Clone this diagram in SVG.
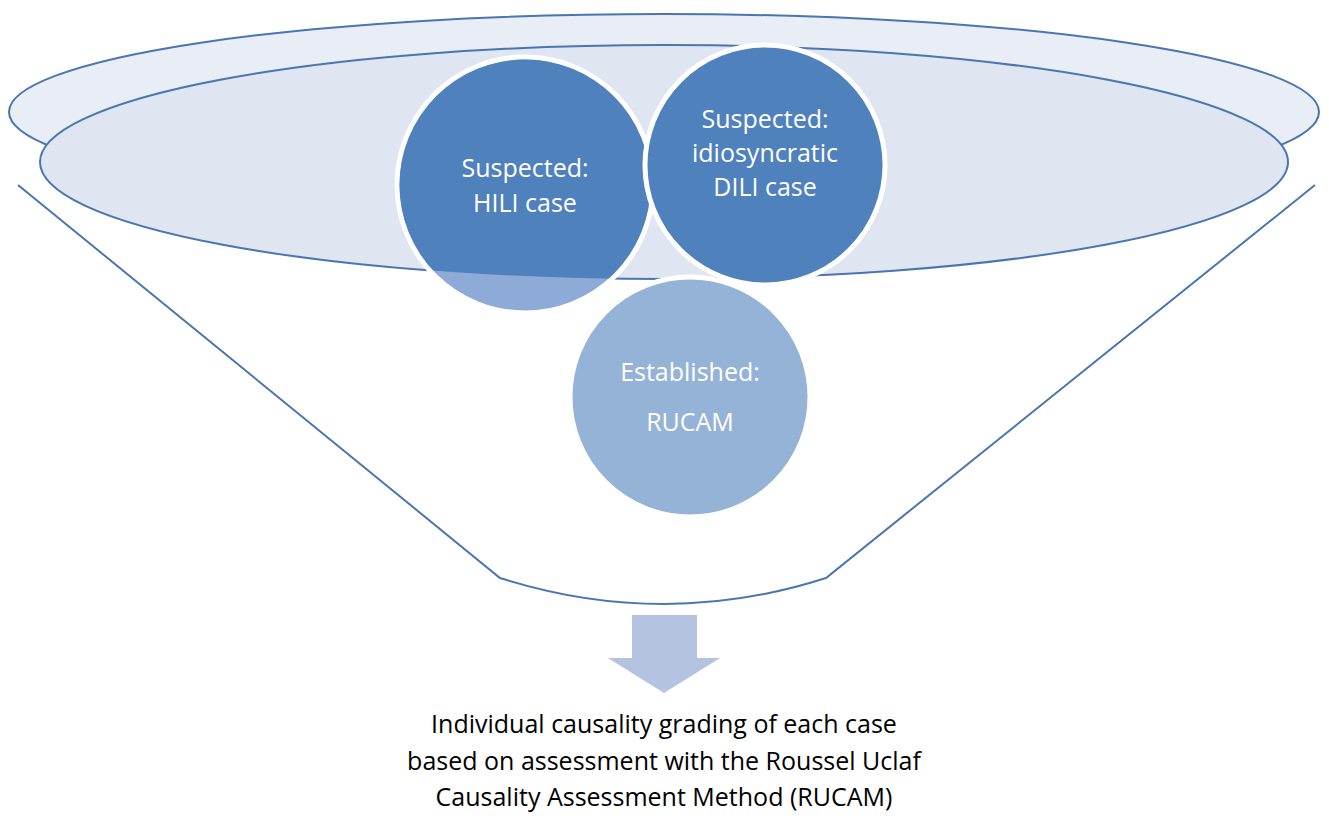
<svg xmlns="http://www.w3.org/2000/svg" width="1329" height="829" viewBox="0 0 1329 829">
<style>
.ct{font-family:"Open Sans","Liberation Sans",sans-serif;font-size:25px;fill:#fff;text-anchor:middle}
.bt{font-family:"Open Sans","Liberation Sans",sans-serif;font-size:25px;fill:#000;text-anchor:middle}
.ln{fill:none;stroke:#4a76b0;stroke-width:2}
</style>
<defs>
<clipPath id="ie"><ellipse cx="664" cy="162" rx="624" ry="117"/></clipPath>
</defs>
<rect width="1329" height="829" fill="#fff"/>
<g id="funnel">
<path class="ln" d="M18,185 L500,578 Q664,630 826,578 L1315,185"/>
<ellipse cx="664" cy="112" rx="655" ry="98" fill="#e8edf6" stroke="#4a76b0" stroke-width="2"/>
<ellipse cx="664" cy="162" rx="624" ry="117" fill="#dfe6f1" stroke="#4a76b0" stroke-width="2"/>
</g>
<g id="n-hili">
<circle cx="525" cy="185" r="128" fill="#8eaad6" stroke="#fff" stroke-width="5"/>
<circle cx="525" cy="185" r="125.5" fill="#4f81bd" clip-path="url(#ie)"/>
<text class="ct" x="525" y="177">Suspected:</text>
<text class="ct" x="525" y="212">HILI case</text>
</g>
<g id="n-dili">
<circle cx="765" cy="165" r="120" fill="#4f81bd" stroke="#fff" stroke-width="5"/>
<text class="ct" x="765" y="128">Suspected:</text>
<text class="ct" x="765" y="162">idiosyncratic</text>
<text class="ct" x="765" y="196">DILI case</text>
</g>
<g id="n-rucam">
<circle cx="690" cy="397" r="120" fill="#95b3d7" stroke="#fff" stroke-width="5"/>
<text class="ct" x="690" y="381">Established:</text>
<text class="ct" x="690" y="431">RUCAM</text>
</g>
<g id="connectors">
<path d="M632,615 H697 V658 H720 L664,693 L608,658 H632 Z" fill="#b4c3e0"/>
</g>
<g id="n-result">
<text class="bt" x="664" y="733">Individual causality grading of each case</text>
<text class="bt" x="664" y="770">based on assessment with the Roussel Uclaf</text>
<text class="bt" x="664" y="806">Causality Assessment Method (RUCAM)</text>
</g>
</svg>
